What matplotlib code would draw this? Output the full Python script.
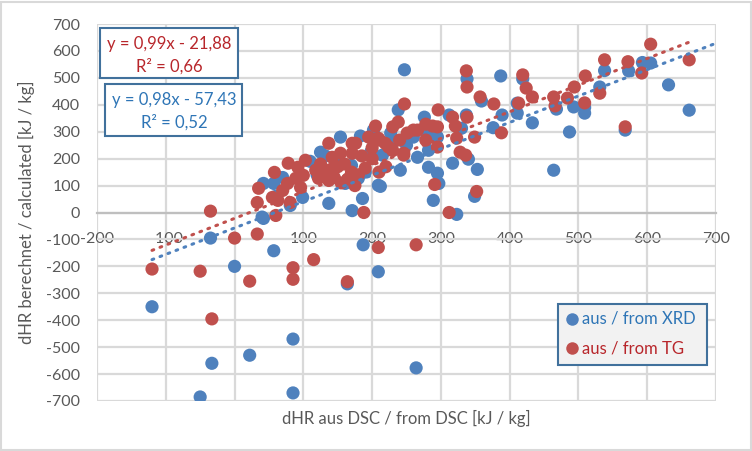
import matplotlib
matplotlib.use("Agg")
import matplotlib.pyplot as plt
from matplotlib.patches import Rectangle
from matplotlib.lines import Line2D

plt.rcParams['font.family'] = ['Lato', 'DejaVu Sans']
plt.rcParams['axes.unicode_minus'] = False

# ---- data -------------------------------------------------------------
xrd_x = [-120, -35, 0, 57, -33, -50, 22, 85, 85, 187, 209, 264, 164,
         42, 40, 42, 57, 81, 99, 125, 137, 171, 186, 209, 154, 202, 161, 180,
         198, 241, 212, 215, 238, 247, 276, 282, 260, 227, 183, 266, 279, 295,
         312, 337, 330, 340, 317, 353, 282, 295, 297, 289, 349, 323, 338, 387,
         419, 359, 389, 376, 433, 411, 411, 468, 493, 487, 464, 509, 509, 531,
         538, 573, 568, 593, 605, 631, 661, 132, 150, 120, 140, 170, 190, 70,
         110, 60, 230, 250]
xrd_y = [-350, -95, -200, -142, -560, -685, -530, -470, -670, -120, -220, -577, -265,
         108, -17, -22, 108, 26, 56, 224, 34, 7, 52, 101, 280, 306, 108, 127,
         224, 157, 97, 213, 381, 530, 354, 231, 280, 295, 284, 205, 294, 280,
         362, 362, 313, 198, 183, 160, 168, 146, 108, 45, 60, -7, 496, 507,
         496, 414, 362, 315, 333, 406, 369, 384, 392, 299, 157, 369, 390, 466,
         527, 526, 306, 557, 555, 474, 380, 210, 200, 140, 150, 175, 150, 130,
         190, 60, 260, 250]

tg_x = [-120, -50, -33, 0, 33, 22, 85, 85, 115, 164, 209, 264, -35,
        33, 35, 58, 55, 63, 60, 70, 78, 77, 81, 89, 103, 92, 96, 100, 118,
        132, 122, 137, 142, 137, 171, 154, 188, 195, 209, 219, 251, 246, 278,
        171, 176, 205, 230, 238, 247, 266, 278, 288, 295, 296, 317, 338, 321,
        323, 349, 295, 260, 240, 246, 328, 336, 224, 211, 291, 352, 312, 337,
        338, 419, 424, 433, 357, 377, 388, 413, 464, 466, 484, 494, 510, 509,
        531, 538, 572, 568, 592, 605, 661, 140, 150, 160, 170, 180, 190, 145,
        155, 165, 175, 200, 210, 220, 230, 200, 125, 185]
tg_y = [-210, -218, -395, -95, -80, -255, -205, -248, -175, -257, -130, -120, 5,
        37, 90, 149, 56, 45, -11, 82, 183, 108, 37, 127, 194, 168, 93, 138, 157,
        149, 127, 119, 205, 257, 257, 220, 0, 280, 276, 257, 295, 220, 269,
        220, 257, 321, 318, 336, 403, 306, 328, 321, 318, 381, 354, 354, 321,
        276, 280, 243, 306, 269, 213, 224, 213, 243, 269, 104, 78, 0, 526,
        466, 511, 462, 429, 429, 403, 296, 406, 429, 396, 425, 466, 507, 407,
        443, 567, 560, 318, 518, 625, 567, 160, 170, 180, 150, 140, 165, 130,
        110, 125, 100, 200, 150, 170, 230, 240, 180, 210]

series_names = ["aus / from XRD", "aus / from TG"]
eq_tg = ("y = 0,99x - 21,88", "R² = 0,66")
eq_xrd = ("y = 0,98x - 57,43", "R² = 0,52")
fit_tg = (0.99, -21.88, -120, 661)
fit_xrd = (0.98, -57.43, -120, 697)

x_label = "dHR aus DSC / from DSC [kJ / kg]"
y_label = "dHR berechnet / calculated [kJ / kg]"

# ---- styling ----------------------------------------------------------
BLUE = "#4F81BD"
RED = "#C0504D"
BLUE_TXT = "#2E75B6"
RED_TXT = "#B8262B"
GRID = "#D9D9D9"
TXT = "#595959"
W, H = 752, 451

fig = plt.figure(figsize=(W / 100, H / 100), dpi=100)
fig.patch.set_facecolor("white")

def fx(px):
    return px / W

def fy(py):
    return 1 - py / H

ax = fig.add_axes([fx(97), fy(401), fx(716) - fx(97), fy(24) - fy(401)])
ax.set_xlim(-200, 700)
ax.set_ylim(-700, 700)
ax.set_xticks(range(-200, 701, 100))
ax.set_yticks(range(-700, 701, 100))
ax.grid(True, color=GRID, linewidth=1.6)
ax.set_axisbelow(True)
for s in ["top", "right", "left"]:
    ax.spines[s].set_visible(False)
ax.spines["bottom"].set_position(("data", 0))
ax.spines["bottom"].set_color("#BFBFBF")
ax.spines["bottom"].set_linewidth(1.6)
ax.tick_params(axis="both", length=0, labelsize=11.5, labelcolor=TXT)
ax.tick_params(axis="x", pad=14)
ax.tick_params(axis="y", pad=12)

ax.scatter(xrd_x, xrd_y, s=90, color=BLUE, edgecolors="none", zorder=3)
ax.scatter(tg_x, tg_y, s=90, color=RED, edgecolors="none", zorder=4)

for (m, b, x0, x1), c in [(fit_tg, RED), (fit_xrd, BLUE)]:
    ax.plot([x0, x1], [m * x0 + b, m * x1 + b], color=c, linewidth=2.2,
            linestyle=(0, (0.6, 2.2)), dash_capstyle="round", zorder=5)

fig.text(fx(406), fy(418), x_label, ha="center", va="center",
         fontsize=12, color=TXT)
fig.text(fx(26), fy(212), y_label, ha="center", va="center",
         rotation=90, fontsize=12, color=TXT)

# equation boxes
def box(x0, y0, x1, y1, face="white"):
    r = Rectangle((fx(x0), fy(y1)), fx(x1) - fx(x0), fy(y0) - fy(y1),
                  transform=fig.transFigure, facecolor=face,
                  edgecolor="#41719C", linewidth=1.5, zorder=10)
    fig.add_artist(r)

box(100, 28, 238, 78)
fig.text(fx(169), fy(44), eq_tg[0], ha="center", va="center",
         fontsize=12, color=RED_TXT, zorder=11)
fig.text(fx(169), fy(66), eq_tg[1], ha="center", va="center",
         fontsize=12, color=RED_TXT, zorder=11)
box(105, 84, 242, 136)
fig.text(fx(174), fy(100), eq_xrd[0], ha="center", va="center",
         fontsize=12, color=BLUE_TXT, zorder=11)
fig.text(fx(174), fy(122), eq_xrd[1], ha="center", va="center",
         fontsize=12, color=BLUE_TXT, zorder=11)

# legend
box(558, 304, 707, 365, face="#F2F2F2")
for name, c, tc, py in [(series_names[0], BLUE, BLUE_TXT, 319),
                        (series_names[1], RED, RED_TXT, 348)]:
    fig.add_artist(Line2D([fx(572)], [fy(py)], marker="o", markersize=9,
                          color=c, markeredgecolor="none",
                          transform=fig.transFigure, zorder=11))
    fig.text(fx(582), fy(py), name, ha="left", va="center",
             fontsize=12, color=tc, zorder=11)

# chart border
fig.add_artist(Rectangle((fx(1.5), fy(449.5)), fx(749), fy(1.5) - fy(449.5),
                         transform=fig.transFigure, fill=False,
                         edgecolor="#D9D9D9", linewidth=1.5))

fig.savefig("out.png", dpi=100)
